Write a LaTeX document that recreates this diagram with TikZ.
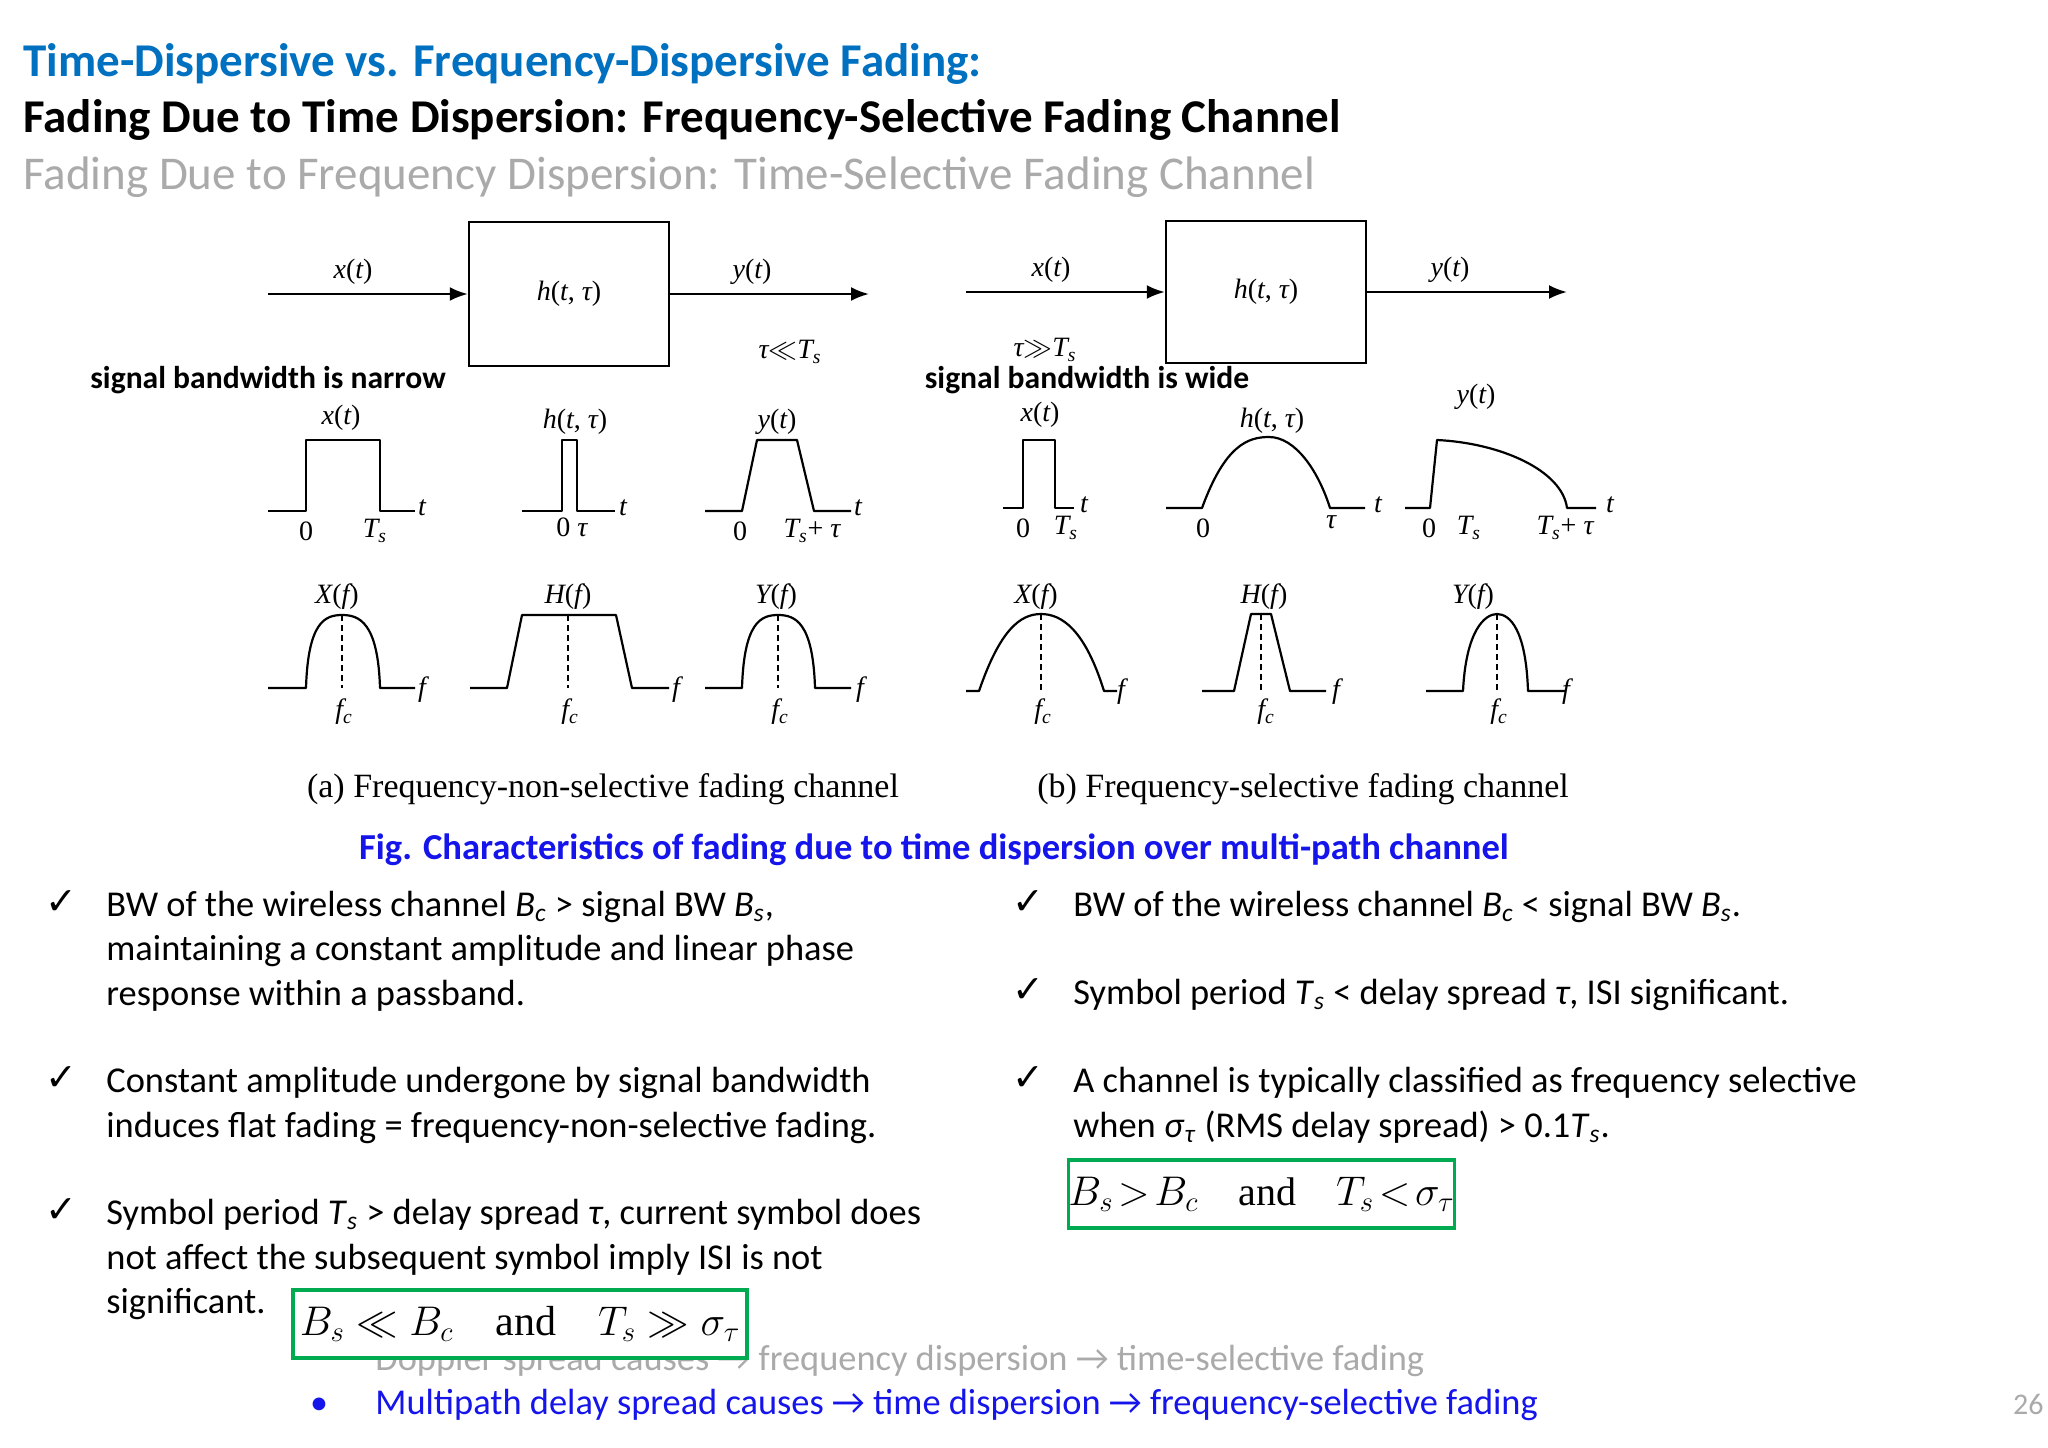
\documentclass[tikz,border=0pt]{standalone}
\usepackage{fontspec}
\setmainfont{Carlito}
\newfontfamily\tms{Liberation Serif}
\newfontfamily\djv{DejaVu Sans}
\usetikzlibrary{arrows.meta}
\definecolor{tblue}{RGB}{0,112,192}
\definecolor{tgray}{RGB}{170,170,170}
\definecolor{fblue}{RGB}{20,20,235}
\definecolor{gbox}{RGB}{0,170,80}
\newcommand{\ti}[1]{{\tms\itshape #1}}
\newcommand{\tr}[1]{{\tms #1}}
\tikzset{
  wave/.style={line width=1.1pt, line join=round},
  sig/.style={line width=1.2pt,-{Latex[length=9pt,width=7pt]}},
  lab/.style={font=\tms\fontsize{14}{16}\selectfont, inner sep=0pt},
  ax/.style={font=\tms\itshape\fontsize{14}{16}\selectfont, inner sep=0pt},
  dsh/.style={line width=0.8pt, dash pattern=on 3pt off 2pt},
  body/.style={font=\fontsize{18.2}{22}\selectfont, anchor=base west, inner sep=0pt},
  chk/.style={font=\djv\bfseries\fontsize{19}{20}\selectfont, anchor=base, inner sep=0pt},
  eqbox/.style={draw=gbox, line width=1.6pt, fill=white, inner sep=0pt},
}
\begin{document}
\begin{tikzpicture}[x=0.5pt,y=-0.5pt]
\useasboundingbox (0,0) rectangle (2048,1447);
\fill[white] (0,0) rectangle (2048,1447);
% titles
\node[anchor=base west,inner sep=0pt,text=tblue,font=\bfseries\fontsize{23.5}{26}\selectfont] (t1) at (23,76) {Time-Dispersive vs. Frequency-Dispersive Fading:};
\node[anchor=base west,inner sep=0pt,font=\bfseries\fontsize{23.5}{26}\selectfont] (t2) at (23,132) {Fading Due to Time Dispersion: Frequency-Selective Fading Channel};
\node[anchor=base west,inner sep=0pt,text=tgray,font=\fontsize{23.5}{26}\selectfont] (t3) at (23,189) {Fading Due to Frequency Dispersion: Time-Selective Fading Channel};

% ---- block diagram (a)
\node[draw,line width=1.2pt,minimum width=100pt,minimum height=72pt,inner sep=0pt,lab] (boxa) at (569,294) {\ti{h}(\ti{t}, \ti{τ})};
\coordinate (ina) at (268,294); \coordinate (outa) at (869,294);
\draw[sig] (ina) -- (boxa.west);
\draw[sig] (boxa.east) -- (outa);
\node[lab] (xa) at (353,272) {\ti{x}(\ti{t})};
\node[lab] (ya) at (752,272) {\ti{y}(\ti{t})};
\node[lab] (ca) at (790,352) {\ti{τ}$\ll$\ti{T}\textsubscript{\ti{s}}};
\node[font=\bfseries\fontsize{15.8}{18}\selectfont,inner sep=0pt] (na) at (268,380) {signal bandwidth is narrow};

% ---- block diagram (b)
\node[draw,line width=1.2pt,minimum width=100pt,minimum height=71pt,inner sep=0pt,lab] (boxb) at (1266,292) {\ti{h}(\ti{t}, \ti{τ})};
\coordinate (inb) at (966,292); \coordinate (outb) at (1567,292);
\draw[sig] (inb) -- (boxb.west);
\draw[sig] (boxb.east) -- (outb);
\node[lab] (xb) at (1051,270) {\ti{x}(\ti{t})};
\node[lab] (yb) at (1450,270) {\ti{y}(\ti{t})};
\node[lab] (cb) at (1045,350) {\ti{τ}$\gg$\ti{T}\textsubscript{\ti{s}}};
\node[font=\bfseries\fontsize{15.8}{18}\selectfont,inner sep=0pt] (nb) at (1087,380) {signal bandwidth is wide};

% ---- time waveforms (a)
\draw[wave] (268,511) -- (306,511) -- (306,440) -- (380,440) -- (380,511) -- (415,511);
\node[lab] at (341,418) {\ti{x}(\ti{t})};
\node[ax] at (422,508) {t};
\node[lab] at (306,531) {0};
\node[lab] at (375,531) {\ti{T}\textsubscript{\ti{s}}};

\draw[wave] (522,511) -- (562,511) -- (562,440) -- (577,440) -- (577,511) -- (615,511);
\node[lab] at (575,422) {\ti{h}(\ti{t}, \ti{τ})};
\node[ax] at (623,508) {t};
\node[lab] at (572,527) {0 \ti{τ}};

\draw[wave] (705,511) -- (742,511) -- (757,440) -- (797,440) -- (814,511) -- (851,511);
\node[lab] at (777,422) {\ti{y}(\ti{t})};
\node[ax] at (858,508) {t};
\node[lab] at (740,531) {0};
\node[lab] at (812,531) {\ti{T}\textsubscript{\ti{s}}+ \ti{τ}};

% ---- freq (a)
\draw[wave] (268,688) -- (306,688) .. controls (308,622) and (325,615) .. (342,615) .. controls (359,615) and (378,622) .. (380,688) -- (415,688);
\draw[dsh] (342,615) -- (342,688);
\node[lab] at (337,597) {\ti{X}(\ti{f})};
\node[lab] at (344,712) {\ti{f}\textsubscript{\ti{c}}};
\node[ax] at (422,690) {f};

\draw[wave] (470,688) -- (507,688) -- (522,615) -- (616,615) -- (632,688) -- (669,688);
\draw[dsh] (568,615) -- (568,688);
\node[lab] at (568,597) {\ti{H}(\ti{f})};
\node[lab] at (570,712) {\ti{f}\textsubscript{\ti{c}}};
\node[ax] at (676,690) {f};

\draw[wave] (705,688) -- (742,688) .. controls (744,622) and (761,615) .. (778,615) .. controls (795,615) and (813,622) .. (815,688) -- (851,688);
\draw[dsh] (778,615) -- (778,688);
\node[lab] at (776,597) {\ti{Y}(\ti{f})};
\node[lab] at (780,712) {\ti{f}\textsubscript{\ti{c}}};
\node[ax] at (860,690) {f};

\node[font=\tms\fontsize{17}{20}\selectfont,inner sep=0pt] (capa) at (603,789) {(a) Frequency-non-selective fading channel};

% ---- time waveforms (b)
\draw[wave] (1003,508) -- (1023,508) -- (1023,440) -- (1055,440) -- (1055,508) -- (1074,508);
\node[lab] at (1040,415) {\ti{x}(\ti{t})};
\node[ax] at (1084,505) {t};
\node[lab] at (1023,528) {0};
\node[lab] at (1066,528) {\ti{T}\textsubscript{\ti{s}}};

\draw[wave] (1166,508) -- (1202,508) .. controls (1225,445) and (1248,437) .. (1269,437) .. controls (1295,437) and (1318,470) .. (1330,508) -- (1365,508);
\node[lab] at (1272,421) {\ti{h}(\ti{t}, \ti{τ})};
\node[ax] at (1378,505) {t};
\node[lab] at (1203,528) {0};
\node[lab] at (1331,522) {\ti{τ}};

\draw[wave] (1405,508) -- (1430,508) -- (1437,440) .. controls (1500,443) and (1562,470) .. (1567,508) -- (1596,508);
\node[lab] at (1476,397) {\ti{y}(\ti{t})};
\node[ax] at (1610,505) {t};
\node[lab] at (1429,528) {0};
\node[lab] at (1469,528) {\ti{T}\textsubscript{\ti{s}}};
\node[lab] at (1565,528) {\ti{T}\textsubscript{\ti{s}}+ \ti{τ}};

% ---- freq (b)
\draw[wave] (966,691) -- (979,691) .. controls (1000,630) and (1020,614) .. (1041,614) .. controls (1062,614) and (1085,630) .. (1104,691) -- (1117,691);
\draw[dsh] (1041,614) -- (1041,691);
\node[lab] at (1036,597) {\ti{X}(\ti{f})};
\node[lab] at (1043,712) {\ti{f}\textsubscript{\ti{c}}};
\node[ax] at (1121,692) {f};

\draw[wave] (1202,691) -- (1234,691) -- (1251,614) -- (1271,614) -- (1290,691) -- (1326,691);
\draw[dsh] (1261,614) -- (1261,691);
\node[lab] at (1264,597) {\ti{H}(\ti{f})};
\node[lab] at (1266,712) {\ti{f}\textsubscript{\ti{c}}};
\node[ax] at (1336,692) {f};

\draw[wave] (1426,691) -- (1463,691) .. controls (1466,630) and (1485,614) .. (1497,614) .. controls (1510,614) and (1526,630) .. (1528,691) -- (1565,691);
\draw[dsh] (1497,614) -- (1497,691);
\node[lab] at (1473,597) {\ti{Y}(\ti{f})};
\node[lab] at (1499,712) {\ti{f}\textsubscript{\ti{c}}};
\node[ax] at (1566,692) {f};

\node[font=\tms\fontsize{17}{20}\selectfont,inner sep=0pt] (capb) at (1303,789) {(b) Frequency-selective fading channel};

\node[text=fblue,font=\bfseries\fontsize{18.3}{22}\selectfont,inner sep=0pt] (fig) at (934,850) {Fig. Characteristics of fading due to time dispersion over multi-path channel};

% ---- bullets left
\node[chk] at (61,914) {✓};
\node[body] at (106,916) {BW of the wireless channel \textit{B}\textsubscript{\textit{c}} > signal BW \textit{B}\textsubscript{\textit{s}},};
\node[body] at (106,960) {maintaining a constant amplitude and linear phase};
\node[body] at (106,1005) {response within a passband.};
\node[chk] at (61,1090) {✓};
\node[body] at (106,1092) {Constant amplitude undergone by signal bandwidth};
\node[body] at (106,1137) {induces flat fading = frequency-non-selective fading.};
\node[chk] at (61,1222) {✓};
\node[body] at (106,1224) {Symbol period \textit{T}\textsubscript{\textit{s}} > delay spread \textit{τ}, current symbol does};
\node[body] at (106,1269) {not affect the subsequent symbol imply ISI is not};
\node[body] at (106,1313) {significant.};

% ---- bullets right
\node[chk] at (1028,914) {✓};
\node[body] at (1073,916) {BW of the wireless channel \textit{B}\textsubscript{\textit{c}} < signal BW \textit{B}\textsubscript{\textit{s}}.};
\node[chk] at (1028,1002) {✓};
\node[body] at (1073,1004) {Symbol period \textit{T}\textsubscript{\textit{s}} < delay spread \textit{τ}, ISI significant.};
\node[chk] at (1028,1090) {✓};
\node[body] at (1073,1092) {A channel is typically classified as frequency selective};
\node[body] at (1073,1137) {when \textit{σ}\textsubscript{\textit{τ}} (RMS delay spread) > 0.1\textit{T}\textsubscript{\textit{s}}.};

% bottom lines
\node[body,text=tgray] (dop) at (375,1370) {Doppler spread causes → frequency dispersion → time-selective fading};
\node[chk,text=fblue,font=\fontsize{18}{20}\selectfont] at (319,1414) {•};
\node[body,text=fblue] (mp) at (375,1414) {Multipath delay spread causes → time dispersion → frequency-selective fading};

% equation boxes
\node[eqbox,minimum width=193pt,minimum height=34pt,font=\fontsize{20}{24}\selectfont] (eqr) at (1261.5,1194) {$B_s\! >\! B_c$\quad\tr{and}\quad$T_s \!<\! \sigma_\tau$};
\node[eqbox,minimum width=227pt,minimum height=34pt,font=\fontsize{21}{24}\selectfont] (eql) at (520,1324) {$B_s \ll B_c$\quad\tr{and}\quad$T_s \gg \sigma_\tau$};

\node[anchor=base east,inner sep=0pt,text=tgray,font=\fontsize{15}{16}\selectfont] (pg) at (2044,1414) {26};
\end{tikzpicture}
\end{document}
